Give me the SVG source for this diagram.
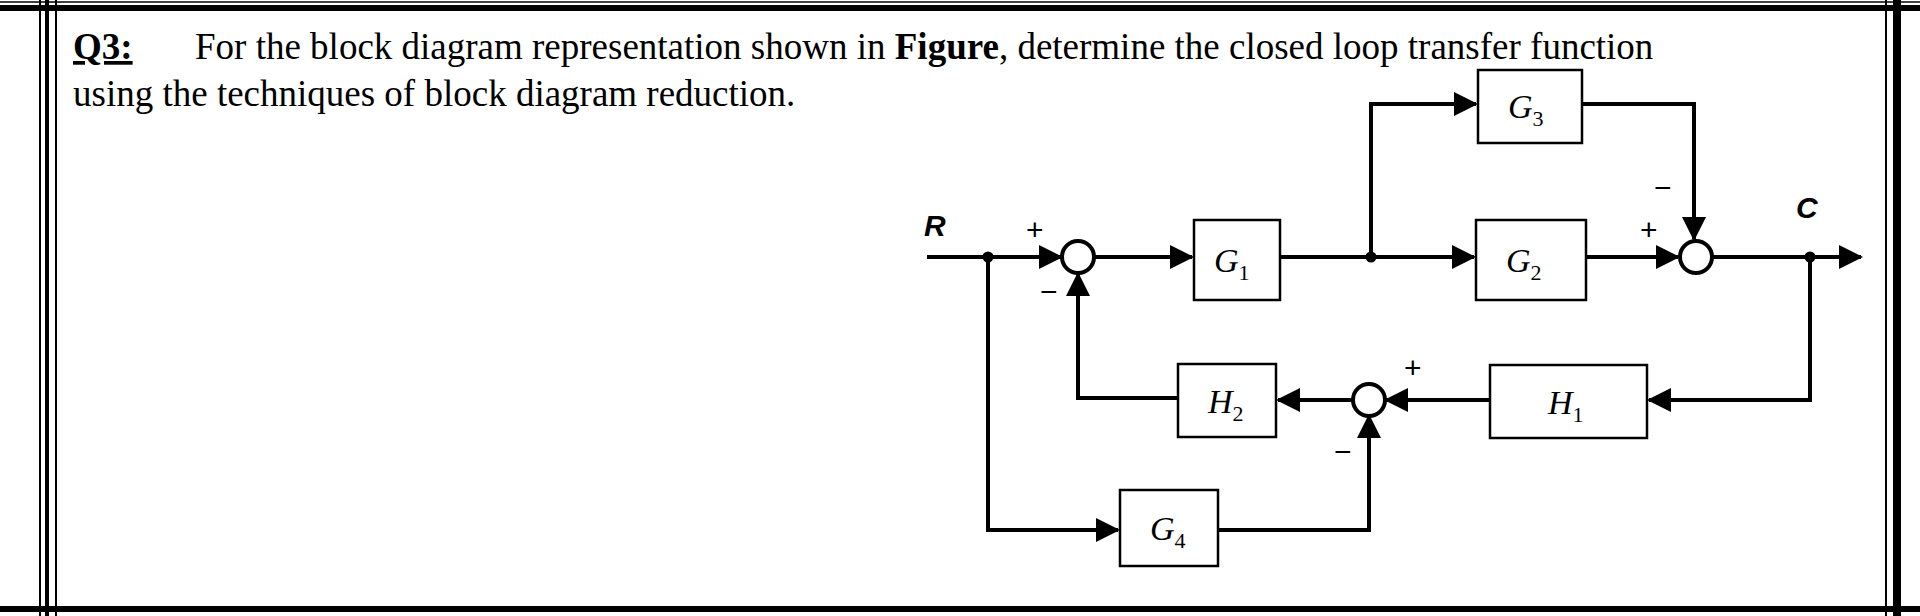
<svg xmlns="http://www.w3.org/2000/svg" width="1920" height="616" viewBox="0 0 1920 616">
<style>
.w{fill:none;stroke:#000;stroke-width:4}
.b{fill:#fff;stroke:#000;stroke-width:2.5}
.s{fill:#fff;stroke:#000;stroke-width:4}
.t{font-family:"Liberation Serif",serif;font-size:37px;fill:#000}
.l{font-family:"Liberation Serif",serif;font-style:italic;font-size:34px;fill:#000}
.sub{font-size:22px;font-style:normal}
.sg{font-family:"Liberation Sans",sans-serif;font-size:30px;fill:#000}
.lab{font-family:"Liberation Sans",sans-serif;font-style:italic;font-weight:bold;font-size:30px;fill:#000}
</style>
<defs><marker id="a" markerWidth="6" markerHeight="6" refX="5.5" refY="3" orient="auto" markerUnits="strokeWidth"><path d="M0,0L6,3L0,6z" fill="#000"/></marker></defs>
<rect width="1920" height="616" fill="#fff"/>
<g id="frame" fill="none" stroke="#000">
<line x1="0" y1="8" x2="1920" y2="8" stroke-width="6"/>
<line x1="0" y1="2" x2="1920" y2="2" stroke-width="1.5"/>
<line x1="0" y1="609" x2="1920" y2="609" stroke-width="6"/>
<line x1="40" y1="0" x2="40" y2="616" stroke-width="2"/>
<line x1="47" y1="0" x2="47" y2="616" stroke-width="4"/>
<line x1="56" y1="0" x2="56" y2="616" stroke-width="2"/>
<line x1="1886" y1="0" x2="1886" y2="616" stroke-width="2"/>
<line x1="1897" y1="0" x2="1897" y2="616" stroke-width="8"/>
</g>
<g id="title">
<text class="t" x="73" y="59"><tspan font-weight="bold" text-decoration="underline">Q3:</tspan></text>
<text class="t" x="195" y="59">For the block diagram representation shown in <tspan font-weight="bold">Figure</tspan>, determine the closed loop transfer function</text>
<text class="t" x="73" y="106">using the techniques of block diagram reduction.</text>
</g>
<g id="connectors">
<line class="w" x1="927" y1="257" x2="1061" y2="257" marker-end="url(#a)"/>
<line class="w" x1="1094" y1="257" x2="1192" y2="257" marker-end="url(#a)"/>
<line class="w" x1="1280" y1="257" x2="1474" y2="257" marker-end="url(#a)"/>
<polyline class="w" points="1371,257 1371,104 1476,104" marker-end="url(#a)"/>
<polyline class="w" points="1582,104 1694,104 1694,239" marker-end="url(#a)"/>
<line class="w" x1="1586" y1="257" x2="1678" y2="257" marker-end="url(#a)"/>
<line class="w" x1="1712" y1="257" x2="1861" y2="257" marker-end="url(#a)"/>
<polyline class="w" points="1810,257 1810,400 1649,400" marker-end="url(#a)"/>
<line class="w" x1="1490" y1="400" x2="1386" y2="400" marker-end="url(#a)"/>
<line class="w" x1="1353" y1="400" x2="1278" y2="400" marker-end="url(#a)"/>
<polyline class="w" points="1178,398 1078,398 1078,274" marker-end="url(#a)"/>
<polyline class="w" points="988,257 988,530 1118,530" marker-end="url(#a)"/>
<polyline class="w" points="1218,530 1369,530 1369,416" marker-end="url(#a)"/>
<circle cx="988" cy="257" r="5.5"/>
<circle cx="1371" cy="257" r="5.5"/>
<circle cx="1810" cy="257" r="5.5"/>
</g>
<g id="sum1"><circle class="s" cx="1078" cy="257" r="16"/></g>
<g id="sum2"><circle class="s" cx="1696" cy="257" r="16"/></g>
<g id="sum3"><circle class="s" cx="1369" cy="400" r="16"/></g>
<g id="G1"><rect class="b" x="1194" y="220" width="86" height="80"/><text class="l" x="1214" y="272">G<tspan class="sub" dy="8">1</tspan></text></g>
<g id="G2"><rect class="b" x="1476" y="220" width="110" height="80"/><text class="l" x="1506" y="272">G<tspan class="sub" dy="8">2</tspan></text></g>
<g id="G3"><rect class="b" x="1478" y="70" width="104" height="73"/><text class="l" x="1508" y="118">G<tspan class="sub" dy="8">3</tspan></text></g>
<g id="H1"><rect class="b" x="1490" y="365" width="157" height="73"/><text class="l" x="1548" y="414">H<tspan class="sub" dy="8">1</tspan></text></g>
<g id="H2"><rect class="b" x="1178" y="364" width="98" height="73"/><text class="l" x="1208" y="413">H<tspan class="sub" dy="8">2</tspan></text></g>
<g id="G4"><rect class="b" x="1120" y="490" width="98" height="76"/><text class="l" x="1150" y="540">G<tspan class="sub" dy="8">4</tspan></text></g>
<g id="labels">
<text class="lab" x="924" y="236">R</text>
<text class="lab" x="1796" y="218">C</text>
<text class="sg" x="1026" y="240">+</text>
<text class="sg" x="1040" y="302">−</text>
<text class="sg" x="1640" y="240">+</text>
<text class="sg" x="1654" y="198">−</text>
<text class="sg" x="1404" y="378">+</text>
<text class="sg" x="1334" y="462">−</text>
</g>
</svg>
